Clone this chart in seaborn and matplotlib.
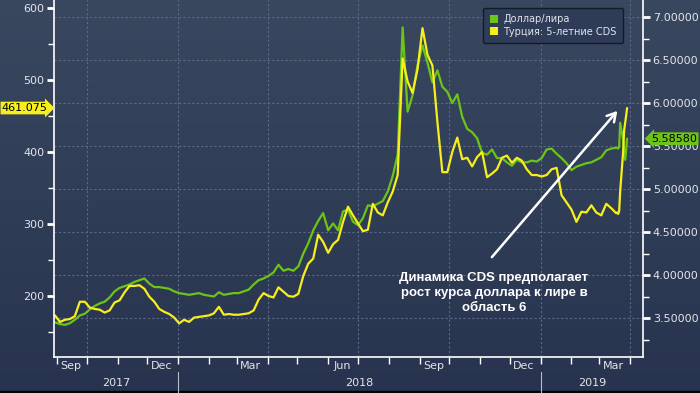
import numpy as np
import pandas as pd
import matplotlib
matplotlib.use("Agg")
import matplotlib.pyplot as plt
import matplotlib.dates as mdates
from matplotlib.patches import Patch, Rectangle
from matplotlib.lines import Line2D
from matplotlib.colors import LinearSegmentedColormap
import seaborn as sns

# ---------------------------------------------------------
# data
# ---------------------------------------------------------
main_dates = pd.date_range("2017-08-30", periods=114, freq="5D")
tail_dates = pd.to_datetime(["2019-03-19", "2019-03-20", "2019-03-21", "2019-03-22",
                             "2019-03-25", "2019-03-26", "2019-03-27", "2019-03-28",
                             "2019-03-29"])

usdtry_main = [3.45, 3.43, 3.42, 3.44, 3.48, 3.53, 3.55, 3.60, 3.64, 3.67,
               3.69, 3.74, 3.81, 3.85, 3.87, 3.89, 3.92, 3.94, 3.96, 3.90,
               3.86, 3.86, 3.85, 3.84, 3.81, 3.79, 3.78, 3.77, 3.78, 3.79,
               3.77, 3.76, 3.75, 3.80, 3.77, 3.78, 3.79, 3.79, 3.81, 3.83,
               3.89, 3.94, 3.96, 3.99, 4.03, 4.12, 4.05, 4.07, 4.05, 4.10,
               4.25, 4.37, 4.52, 4.63, 4.72, 4.52, 4.60, 4.52, 4.74, 4.76,
               4.62, 4.58, 4.66, 4.81, 4.80, 4.83, 4.86, 4.97, 5.15, 5.40,
               6.88, 5.90, 6.09, 6.44, 6.67, 6.47, 6.24, 6.38, 6.19, 6.13,
               6.00, 6.10, 5.84, 5.70, 5.66, 5.59, 5.42, 5.40, 5.46, 5.36,
               5.36, 5.31, 5.27, 5.34, 5.31, 5.31, 5.33, 5.32, 5.36, 5.46,
               5.47, 5.41, 5.36, 5.30, 5.22, 5.26, 5.28, 5.30, 5.31, 5.34,
               5.37, 5.45, 5.47, 5.48]
usdtry_tail = [5.48, 5.47, 5.49, 5.77, 5.57, 5.45, 5.34, 5.45, 5.5858]

cds_main = [173, 164, 167, 168, 172, 192, 192, 184, 182, 181,
            177, 180, 191, 194, 205, 214, 214, 215, 210, 199,
            192, 182, 178, 175, 170, 162, 167, 164, 170, 171,
            172, 173, 176, 185, 174, 175, 174, 174, 175, 176,
            180, 195, 204, 200, 198, 212, 206, 200, 199, 203,
            228, 245, 252, 285, 275, 260, 272, 278, 303, 324,
            312, 301, 290, 292, 328, 316, 312, 330, 345, 368,
            530, 498, 482, 515, 572, 535, 520, 442, 372, 372,
            400, 420, 390, 392, 380, 393, 400, 365, 370, 376,
            392, 395, 385, 392, 388, 376, 368, 368, 366, 368,
            376, 378, 340, 330, 320, 303, 317, 316, 326, 316,
            312, 328, 322, 315]
cds_tail = [316, 314, 318, 345, 400, 430, 440, 450, 461.075]

series_names = ["Доллар/лира", "Турция: 5-летние CDS"]
note_text = "Динамика CDS предполагает\nрост курса доллара к лире в\nобласть 6"

df = pd.DataFrame({
    "date": main_dates.append(tail_dates),
    "usdtry": usdtry_main + usdtry_tail,
    "cds": cds_main + cds_tail,
})

# ---------------------------------------------------------
# style
# ---------------------------------------------------------
sns.set_style("dark")
plt.rcParams["font.family"] = ["DejaVu Sans"]

GREEN = "#6cc417"
YELLOW = "#f7ef1b"
TXT = "#e2e4ea"
GRID = "#5a6a88"

fig = plt.figure(figsize=(7, 3.93), dpi=100)
fig.patch.set_facecolor("#303d59")

# background gradient
bg = fig.add_axes([0, 0, 1, 1], zorder=-5)
grad = np.linspace(0, 1, 256).reshape(-1, 1)
cmap = LinearSegmentedColormap.from_list("bg", ["#39475f", "#28344f"])
bg.imshow(grad, aspect="auto", cmap=cmap, extent=[0, 1, 0, 1])
bg.axis("off")

ax = fig.add_axes([54 / 700, 36 / 393, 589 / 700, 357 / 393])
ax2 = ax.twinx()
ax.set_zorder(2)
ax2.set_zorder(1)
ax.patch.set_visible(False)
ax2.patch.set_visible(False)

sns.lineplot(data=df, x="date", y="usdtry", ax=ax2, color=GREEN, linewidth=1.6)
sns.lineplot(data=df, x="date", y="cds", ax=ax, color=YELLOW, linewidth=1.6)

ax.set_xlim(pd.Timestamp("2017-08-29"), pd.Timestamp("2019-04-14"))
ax.set_ylim(115.3, 611.1)
ax2.set_ylim(3.047, 7.198)

for a in (ax, ax2):
    a.set_xlabel("")
    a.set_ylabel("")
    a.grid(False)
    for s in a.spines.values():
        s.set_visible(False)

ax.spines["left"].set_visible(True)
ax.spines["bottom"].set_visible(True)
ax2.spines["right"].set_visible(True)
for s in (ax.spines["left"], ax.spines["bottom"], ax2.spines["right"]):
    s.set_color("white")
    s.set_linewidth(1.2)

# y ticks
ax.set_yticks([200, 300, 400, 500, 600])
ax.set_yticks([150, 250, 350, 450, 550], minor=True)
ax2.set_yticks([3.5, 4.0, 4.5, 5.0, 5.5, 6.0, 6.5, 7.0])
ax2.set_yticks([3.25, 3.75, 4.25, 4.75, 5.25, 5.75, 6.25, 6.75], minor=True)
ax2.yaxis.set_major_formatter(matplotlib.ticker.FormatStrFormatter("%.5f"))

ax.tick_params(axis="y", which="major", left=True, length=5, width=2, color="white",
               labelcolor=TXT, labelsize=8, pad=2)
ax.tick_params(axis="y", which="minor", left=True, length=4, width=1, color="white")
ax2.tick_params(axis="y", which="major", right=True, length=5, width=2, color="white",
                labelcolor=TXT, labelsize=8, pad=2)
ax2.tick_params(axis="y", which="minor", right=True, length=4, width=1, color="white")

# horizontal grid from right axis, vertical grid at quarter starts
ax2.grid(axis="y", which="major", color=GRID, linestyle=(0, (2, 2)), linewidth=0.8)
for d in pd.date_range("2017-10-01", "2019-04-01", freq="QS"):
    ax2.axvline(d, color=GRID, linestyle=(0, (2, 2)), linewidth=0.8, zorder=0)

# x ticks: month starts as minor ticks, labels mid-month
ax.xaxis.set_minor_locator(mdates.MonthLocator())
ax.xaxis.set_major_locator(mdates.MonthLocator(bymonth=[3, 6, 9, 12], bymonthday=15))
ax.xaxis.set_major_formatter(mdates.DateFormatter("%b"))
ax.tick_params(axis="x", which="major", bottom=True, length=0, labelcolor=TXT,
               labelsize=8, pad=3)
ax.tick_params(axis="x", which="minor", bottom=True, length=5, width=1, color="white")

# year labels with separators
trans = ax.get_xaxis_transform()
x0, x1 = ax.get_xlim()
yb = [x0, mdates.date2num(pd.Timestamp("2018-01-01")),
      mdates.date2num(pd.Timestamp("2019-01-01")), x1]
for yr, a, b in zip(["2017", "2018", "2019"], yb[:-1], yb[1:]):
    ax.text((a + b) / 2, -0.073, yr, transform=trans, ha="center", va="center",
            color=TXT, fontsize=8)
for xs in yb[1:3]:
    ax.add_line(Line2D([xs, xs], [-0.042, -0.11], transform=trans, clip_on=False,
                       color="#b8bcc8", linewidth=0.8))

# legend
handles = [Patch(facecolor=GREEN, edgecolor="none"), Patch(facecolor=YELLOW, edgecolor="none")]
leg = ax.legend(handles, series_names, loc="upper right", bbox_to_anchor=(0.966, 0.978),
                borderaxespad=0, fontsize=7, handlelength=0.9, handleheight=0.9,
                handletextpad=0.5, labelspacing=0.25, borderpad=0.65, frameon=True,
                facecolor="#2f3c58", edgecolor="#141a28", framealpha=1, fancybox=True)
for t in leg.get_texts():
    t.set_color(TXT)

# last value tags
ax.annotate(f"{cds_tail[-1]:.3f}", xy=(0, cds_tail[-1]), xycoords=("axes fraction", "data"),
            xytext=(-4.5, 0), textcoords="offset points", ha="right", va="center",
            fontsize=8, color="black", annotation_clip=False,
            bbox=dict(boxstyle="rarrow,pad=0.12", fc=YELLOW, ec="none"))
ax2.annotate(f"{usdtry_tail[-1]:.5f}", xy=(1, usdtry_tail[-1]), xycoords=("axes fraction", "data"),
             xytext=(6, 0), textcoords="offset points", ha="left", va="center",
             fontsize=8, color="black", annotation_clip=False, zorder=10,
             bbox=dict(boxstyle="larrow,pad=0.12", fc=GREEN, ec="none"))

# comment arrow and text
ax.annotate("", xy=(pd.Timestamp("2019-03-21"), 460), xytext=(pd.Timestamp("2018-11-11"), 251),
            arrowprops=dict(arrowstyle="->,head_length=0.6,head_width=0.35", color="white", lw=1.8))
ax.text(pd.Timestamp("2018-11-15"), 204, note_text, ha="center", va="center",
        multialignment="center", color="white", fontsize=9.5, fontweight="bold",
        linespacing=1.35, family=["Liberation Sans", "DejaVu Sans"])

# black strip at the very bottom
fig.add_artist(Rectangle((0, 0), 1, 2 / 393, transform=fig.transFigure, color="black"))

fig.savefig("out.png", dpi=100, facecolor=fig.get_facecolor())
plt.close(fig)
